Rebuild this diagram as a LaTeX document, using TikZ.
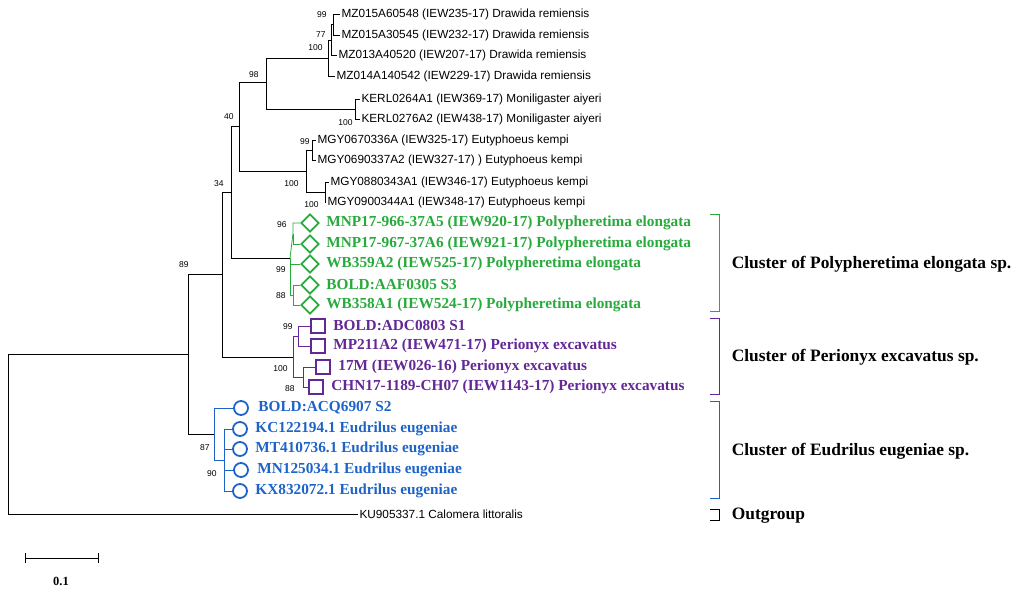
\documentclass[tikz,border=0pt]{standalone}
\usepackage{fontspec}
\setmainfont{Liberation Serif}
\setsansfont{Liberation Sans}
\usetikzlibrary{shapes.geometric}
\usetikzlibrary{positioning}
\definecolor{cgreen}{RGB}{40,170,60}
\definecolor{cpurple}{RGB}{100,40,150}
\definecolor{cblue}{RGB}{30,100,200}
\tikzset{
	leaf/.style={anchor=west,inner sep=1pt,font=\sffamily\fontsize{11.8}{13}\selectfont},
	cleaf/.style={anchor=west,inner sep=1pt,font=\bfseries\fontsize{15.3}{17}\selectfont},
	boot/.style={anchor=south east,inner sep=1pt,font=\sffamily\fontsize{8.5}{9}\selectfont},
	br/.style={line width=0.8pt},
	dmd/.style={diamond,draw=cgreen,line width=1.8pt,minimum size=18pt,inner sep=0pt},
	sq/.style={rectangle,draw=cpurple,line width=1.8pt,minimum size=14pt,inner sep=0pt},
	crc/.style={circle,draw=cblue,line width=1.8pt,minimum size=14pt,inner sep=0pt},
	clus/.style={anchor=west,font=\bfseries\fontsize{17.4}{19}\selectfont}
}
\begin{document}
\begin{tikzpicture}[x=1pt,y=-1pt,line width=1pt]
	\useasboundingbox (0,0) rectangle (1024,597);
	% inner nodes
	\coordinate (root) at (8,354);
	\coordinate (n89) at (188,354);
	\coordinate (n34) at (222,274);
	\coordinate (nA) at (231,192);
	\coordinate (n40) at (239,126);
	\coordinate (n98) at (266,82);
	\coordinate (nD) at (328,58);
	\coordinate (nD77) at (331,40);
	\coordinate (nD99) at (333,24.5);
	\coordinate (nK) at (355,109);
	\coordinate (nE) at (306,171);
	\coordinate (nE99) at (312,150);
	\coordinate (nE100) at (325,192);
	\coordinate (nG) at (290,258);
	\coordinate (nG96) at (293,233.5);
	\coordinate (nG88) at (293,295);
	\coordinate (nP) at (293,357);
	\coordinate (nP99) at (298,336);
	\coordinate (nP88) at (303,377);
	\coordinate (nB) at (214,434);
	\coordinate (nB90) at (224,460);
	% black leaves
	\node[leaf] (d1) at (340,14) {MZ015A60548 (IEW235-17) Drawida remiensis};
	\node[leaf] (d2) at (340,35) {MZ015A30545 (IEW232-17) Drawida remiensis};
	\node[leaf] (d3) at (337,55) {MZ013A40520 (IEW207-17) Drawida remiensis};
	\node[leaf] (d4) at (335,76) {MZ014A140542 (IEW229-17) Drawida remiensis};
	\node[leaf] (k1) at (360,99) {KERL0264A1 (IEW369-17) Moniligaster aiyeri};
	\node[leaf] (k2) at (360,119) {KERL0276A2 (IEW438-17) Moniligaster aiyeri};
	\node[leaf] (e1) at (316,140) {MGY0670336A (IEW325-17) Eutyphoeus kempi};
	\node[leaf] (e2) at (316,160) {MGY0690337A2 (IEW327-17) ) Eutyphoeus kempi};
	\node[leaf] (e3) at (329,182) {MGY0880343A1 (IEW346-17) Eutyphoeus kempi};
	\node[leaf] (e4) at (326,202) {MGY0900344A1 (IEW348-17) Eutyphoeus kempi};
	\node[leaf] (og) at (358,514) {KU905337.1 Calomera littoralis};
	% green leaves
	\begin{scope}[cgreen]
		\node[dmd] (g1m) at (310,223) {};
		\node[dmd] (g2m) at (310,244) {};
		\node[dmd] (g3m) at (310,264) {};
		\node[dmd] (g4m) at (310,285) {};
		\node[dmd] (g5m) at (310,305) {};
		\node[cleaf,right=5pt of g1m] (g1) {MNP17-966-37A5 (IEW920-17) Polypheretima elongata};
		\node[cleaf,right=5pt of g2m] (g2) {MNP17-967-37A6 (IEW921-17) Polypheretima elongata};
		\node[cleaf,right=5pt of g3m] (g3) {WB359A2 (IEW525-17) Polypheretima elongata};
		\node[cleaf,right=5pt of g4m] (g4) {BOLD:AAF0305 S3};
		\node[cleaf,right=5pt of g5m] (g5) {WB358A1 (IEW524-17) Polypheretima elongata};
	\end{scope}
	% purple leaves
	\begin{scope}[cpurple]
		\node[sq] (p1m) at (318,326) {};
		\node[sq] (p2m) at (318,346) {};
		\node[sq] (p3m) at (323,367) {};
		\node[sq] (p4m) at (316,387) {};
		\node[cleaf,right=6pt of p1m] (p1) {BOLD:ADC0803 S1};
		\node[cleaf,right=6pt of p2m] (p2) {MP211A2 (IEW471-17) Perionyx excavatus};
		\node[cleaf,right=6pt of p3m] (p3) {17M (IEW026-16) Perionyx excavatus};
		\node[cleaf,right=6pt of p4m] (p4) {CHN17-1189-CH07 (IEW1143-17) Perionyx excavatus};
	\end{scope}
	% blue leaves
	\begin{scope}[cblue]
		\node[crc] (b1m) at (241,408) {};
		\node[crc] (b2m) at (240,429) {};
		\node[crc] (b3m) at (240,449) {};
		\node[crc] (b4m) at (241,470) {};
		\node[crc] (b5m) at (240,491) {};
		\node[cleaf,right=8pt of b1m] (b1) {BOLD:ACQ6907 S2};
		\node[cleaf,right=6pt of b2m] (b2) {KC122194.1 Eudrilus eugeniae};
		\node[cleaf,right=6pt of b3m] (b3) {MT410736.1 Eudrilus eugeniae};
		\node[cleaf,right=7pt of b4m] (b4) {MN125034.1 Eudrilus eugeniae};
		\node[cleaf,right=6pt of b5m] (b5) {KX832072.1 Eudrilus eugeniae};
	\end{scope}
	% black branches
	\draw (og.west) -| (root) |- (n89);
	\draw (n89) |- (n34) |- (nA) |- (n40) |- (n98) |- (nD) |- (nD77) |- (nD99) |- (d1.west);
	\draw (nD99) |- (d2.west);
	\draw (nD77) |- (d3.west);
	\draw (nD) |- (d4.west);
	\draw (n98) |- (nK) |- (k1.west);
	\draw (nK) |- (k2.west);
	\draw (n40) |- (nE) |- (nE99) |- (e1.west);
	\draw (nE99) |- (e2.west);
	\draw (nE) |- (nE100) |- (e3.west);
	\draw (nE100) |- (e4.west);
	\draw (nA) |- (nG);
	\draw (n34) |- (nP);
	\draw (n89) |- (nB);
	% coloured branches
	\draw[cgreen,line width=0.8pt] (nG) -- (nG96) |- (g1m.west);
	\draw[cgreen,line width=0.8pt] (nG96) |- (g2m.west);
	\draw[cgreen,line width=0.8pt] (nG) |- (g3m.west);
	\draw[cgreen,line width=0.8pt] (nG) |- (nG88) |- (g4m.west);
	\draw[cgreen,line width=0.8pt] (nG88) |- (g5m.west);
	\draw[cpurple,line width=0.8pt] (nP) |- (nP99) |- (p1m.west);
	\draw[cpurple,line width=0.8pt] (nP99) |- (p2m.west);
	\draw[cpurple,line width=0.8pt] (nP) |- (nP88) |- (p3m.west);
	\draw[cpurple,line width=0.8pt] (nP88) |- (p4m.west);
	\draw[cblue,line width=0.8pt] (nB) |- (b1m.west);
	\draw[cblue,line width=0.8pt] (nB) |- (nB90) |- (b2m.west);
	\draw[cblue,line width=0.8pt] (nB90) |- (b3m.west);
	\draw[cblue,line width=0.8pt] (nB90) |- (b4m.west);
	\draw[cblue,line width=0.8pt] (nB90) |- (b5m.west);
	% bootstrap values
	\node[boot] at (328,19) {99};
	\node[boot] at (327,39) {77};
	\node[boot] at (324,52) {100};
	\node[boot] at (260,79) {98};
	\node[boot] at (354,127) {100};
	\node[boot] at (235,121) {40};
	\node[boot] at (311,146) {99};
	\node[boot] at (300,188) {100};
	\node[boot] at (320,209) {100};
	\node[boot] at (225,188) {34};
	\node[boot] at (190,269) {89};
	\node[boot] at (288,229) {96};
	\node[boot] at (287,274) {99};
	\node[boot] at (287,300) {88};
	\node[boot] at (294,331) {99};
	\node[boot] at (289,373) {100};
	\node[boot] at (296,393) {88};
	\node[boot] at (211,452) {87};
	\node[boot] at (218,478) {90};
	% clusters
	\draw[cgreen,br] (710,214) -- (719,214) -- (719,311) -- (710,311);
	\draw[cpurple,br] (710,318) -- (719,318) -- (719,394) -- (710,394);
	\draw[cblue,br] (710,401) -- (719,401) -- (719,498) -- (710,498);
	\draw[br] (710,509) -- (719,509) -- (719,520) -- (710,520);
	\node[clus] (cg) at (728,264) {Cluster of Polypheretima elongata sp.};
	\node[clus] (cp) at (728,357) {Cluster of Perionyx excavatus sp.};
	\node[clus] (cb) at (728,451) {Cluster of Eudrilus eugeniae sp.};
	\node[clus] (co) at (728,516) {Outgroup};
	% scale bar
	\coordinate (s1) at (25,558);
	\coordinate (s2) at (98,558);
	\draw (s1) -- (s2);
	\draw (25,553) -- (25,563);
	\draw (98,553) -- (98,563);
	\node[font=\bfseries\fontsize{12.5}{14}\selectfont] (sl) at (61,581) {0.1};
\end{tikzpicture}
\end{document}
